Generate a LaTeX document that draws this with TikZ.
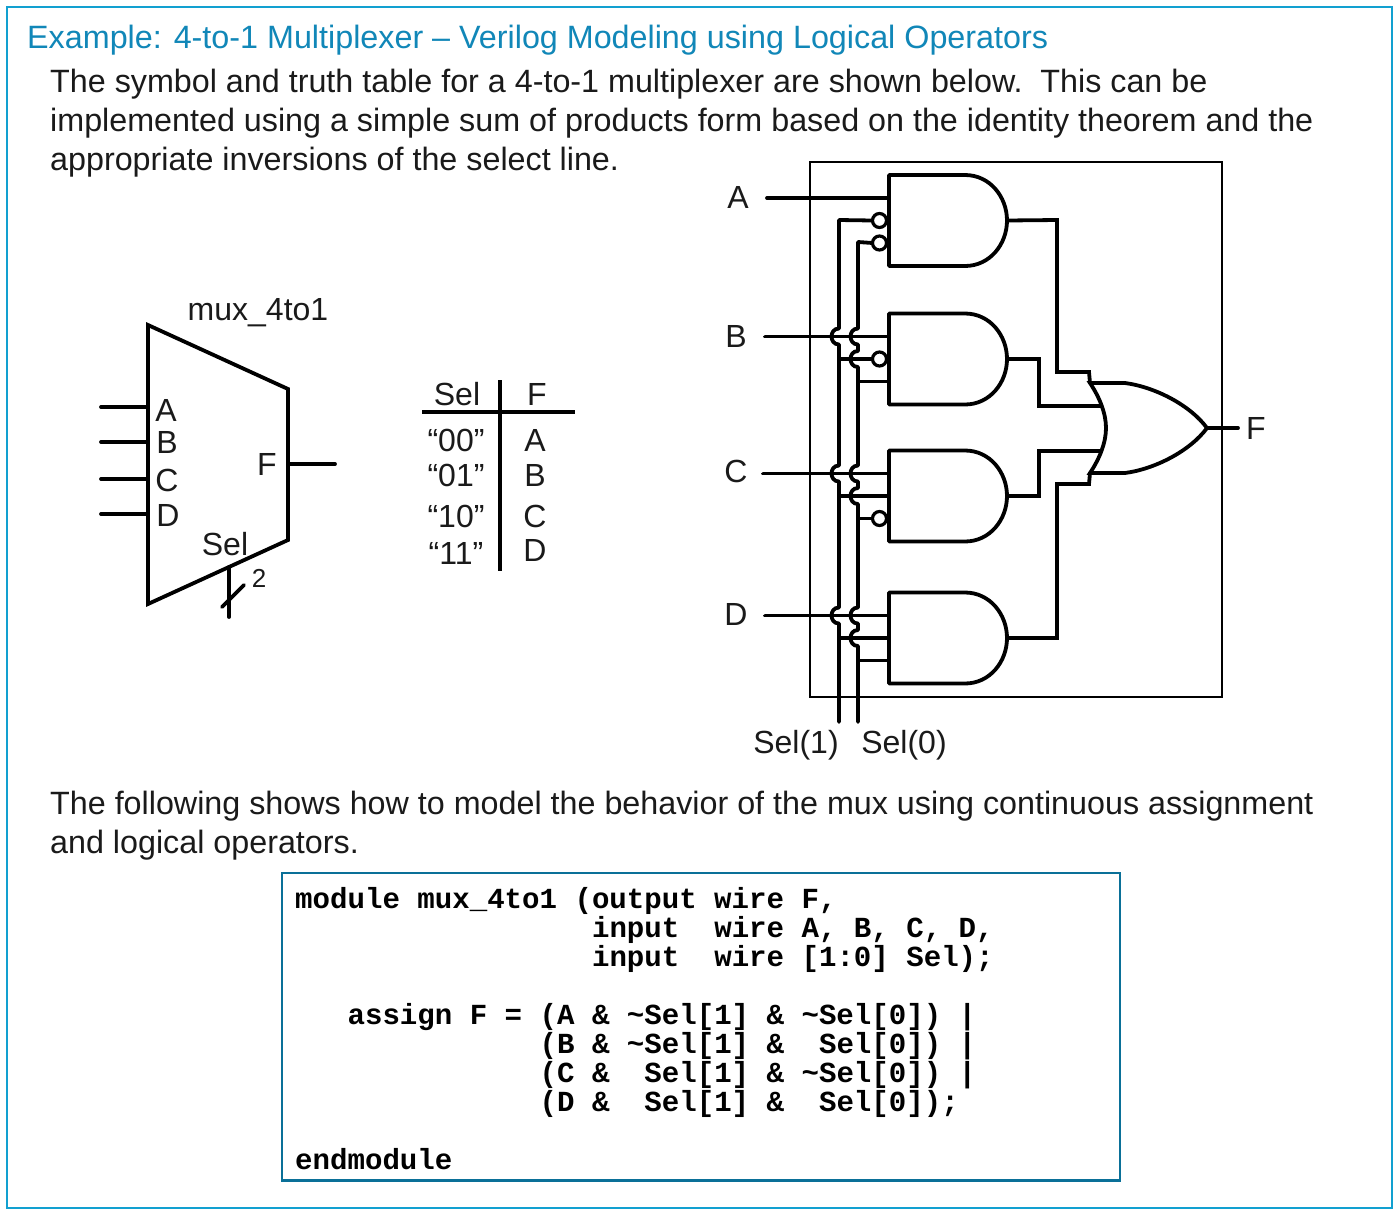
\documentclass[tikz,border=0pt]{standalone}
\usepackage{fontspec}
\setmainfont{Liberation Sans}
\newfontfamily\codefont{Liberation Mono Bold}
\usetikzlibrary{calc}
\definecolor{frameblue}{HTML}{12A0D0}
\definecolor{titleblue}{HTML}{1187B8}
\definecolor{codeblue}{HTML}{0A7098}
\definecolor{ink}{HTML}{1A1A1A}
\newcommand{\bodysize}{\fontsize{32.28}{39}\selectfont}
\newcommand{\labsize}{\fontsize{32}{36}\selectfont}
\newcommand{\tld}{\textasciitilde}
\newcommand{\cl}[1]{\hbox{#1}}
\newcommand{\jumpat}[1]{-- ($(#1)+(0,-8)$) .. controls ($(#1)+(-10,-8)$) and ($(#1)+(-10,8)$) .. ($(#1)+(0,8)$)}
\newcommand{\andgate}[2]{%
  \coordinate (#1a) at (889,#2+23);
  \coordinate (#1b) at (889,#2+45.5);
  \coordinate (#1c) at (889,#2+68);
  \coordinate (#1o) at (1007,#2+45.5);
  \draw[wire,line join=round] (889,#2) -- (965,#2) .. controls (990,#2) and (1007,#2+22) .. (1007,#2+45.5)
     .. controls (1007,#2+69) and (990,#2+91) .. (965,#2+91) -- (889,#2+91) -- cycle;}
\tikzset{
  wire/.style={draw=black,line width=3.8pt,line cap=round},
  thinbox/.style={draw=black,line width=1.2pt,outer sep=0pt},
  bubble/.style={circle,draw=black,line width=3.2pt,fill=white,minimum size=14pt,inner sep=0pt,outer sep=0pt,xshift=-2.5pt},
  bodytext/.style={anchor=base west,inner sep=0pt,text=ink,font=\bodysize},
  titletext/.style={anchor=base west,inner sep=0pt,text=titleblue,font=\fontsize{32.3}{38}\selectfont},
  lab/.style={inner sep=0pt,anchor=base,text=ink,font=\labsize},
  codetext/.style={anchor=base west,inner sep=0pt,text=black,font=\codefont\fontsize{29.1}{29}\selectfont},
}
\begin{document}
\begin{tikzpicture}[x=1pt,y=-1pt]
\useasboundingbox (0,0) rectangle (1400,1216);
\fill[white] (0,0) rectangle (1400,1216);
\node[draw=frameblue,line width=2.8pt,inner sep=0pt,outer sep=0pt,minimum width=1385pt,minimum height=1201pt,anchor=north west] (frame) at (7,7) {};

% Text
\node[titletext] (title) at (27,48) {Example: 4-to-1 Multiplexer – Verilog Modeling using Logical Operators};
\node[bodytext] (p1) at (50,92) {The symbol and truth table for a 4-to-1 multiplexer are shown below.\ \ This can be};
\node[bodytext] (p2) at (50,131) {implemented using a simple sum of products form based on the identity theorem and the};
\node[bodytext] (p3) at (50,170) {appropriate inversions of the select line.};
\node[bodytext] (p4) at (50,814) {The following shows how to model the behavior of the mux using continuous assignment};
\node[bodytext] (p5) at (50,853) {and logical operators.};

% Mux symbol
\node[lab] (muxname) at (258,320) {mux\_4to1};
\coordinate (mtl) at (148,325); \coordinate (mtr) at (288,389);
\coordinate (mbr) at (288,540); \coordinate (mbl) at (148,604);
\draw[wire,line join=miter,line cap=butt] (mtl) -- (mtr) -- (mbr) -- (mbl) -- cycle;
\foreach \n/\y in {A/407,B/442,C/479,D/514}{
  \coordinate (mi\n) at (148,\y);
  \coordinate (mx\n) at (101,\y);
  \draw[wire] (mx\n) -- (mi\n);
}
\node[lab] (mA) at (166,421) {A};
\node[lab] (mB) at (167,453) {B};
\node[lab] (mC) at (167,491) {C};
\node[lab] (mD) at (168,526) {D};
\node[lab] (mF) at (267,475) {F};
\node[lab] (mSel) at (225,555) {Sel};
\coordinate (mfi) at (288,464); \coordinate (mfo) at (335,464);
\draw[wire] (mfi) -- (mfo);
\coordinate (ms1) at (229,567); \coordinate (ms2) at (229,617);
\draw[wire] (ms1) -- (ms2);
\coordinate (sl1) at (222,607); \coordinate (sl2) at (244,585);
\draw[wire] (sl1) -- (sl2);
\node[lab,font=\fontsize{26}{30}\selectfont] (m2) at (259,587) {2};

% Truth table
\coordinate (th1) at (422,412); \coordinate (th2) at (575,412);
\coordinate (tv1) at (500,380); \coordinate (tv2) at (500,571);
\draw[wire,line cap=butt] (th1) -- (th2);
\draw[wire,line cap=butt] (tv1) -- (tv2);
\node[lab] (tS) at (457,405) {Sel};
\node[lab] (tF) at (537,405) {F};
\node[lab] (t0) at (456,451) {“00”};
\node[lab] (t1) at (456,486) {“01”};
\node[lab] (t2) at (456,527) {“10”};
\node[lab] (t3) at (456,564) {“11”};
\node[lab] (tA) at (535,451) {A};
\node[lab] (tB) at (535,486) {B};
\node[lab] (tC) at (535,527) {C};
\node[lab] (tD) at (535,561) {D};

% Schematic boundary
\node[thinbox,inner sep=0pt,minimum width=412pt,minimum height=535pt,anchor=north west] (sch) at (810,162) {};

% Gates
\andgate{ga}{175}
\andgate{gb}{313.5}
\andgate{gc}{450.5}
\andgate{gd}{592.5}

% Select lines
\coordinate (s1t) at (839,220); \coordinate (s1b) at (839,722);
\coordinate (s0t) at (858,242); \coordinate (s0b) at (858,722);
\coordinate (j1b) at (839,336.5); \coordinate (j1c) at (839,473.5); \coordinate (j1d) at (839,615.5);
\coordinate (j0b) at (858,336.5); \coordinate (j0B) at (858,359);
\coordinate (j0c) at (858,473.5); \coordinate (j0C) at (858,496);
\coordinate (j0d) at (858,615.5); \coordinate (j0D) at (858,638);
\draw[wire,line join=round] (s1t) \jumpat{j1b} \jumpat{j1c} \jumpat{j1d} -- (s1b);
\draw[wire,line join=round] (s0t) \jumpat{j0b} \jumpat{j0B} \jumpat{j0c} \jumpat{j0C} \jumpat{j0d} \jumpat{j0D} -- (s0b);

% Data inputs
\coordinate (ina) at (767,198); \coordinate (inb) at (765,336.5);
\coordinate (inc) at (763,473.5); \coordinate (ind) at (765,615.5);
\draw[wire] (ina) -- (gaa);
\draw[wire] (inb) -- (gba);
\draw[wire] (inc) -- (gca);
\draw[wire] (ind) -- (gda);

% Bubbles and select taps
\node[bubble,anchor=east] (b1) at (gab) {};
\node[bubble,anchor=east] (b2) at (gac) {};
\node[bubble,anchor=east] (b3) at (gbb) {};
\node[bubble,anchor=east] (b4) at (gcc) {};
\draw[wire,line cap=butt] (s1t) -- (b1.west);
\draw[wire,line cap=butt] (s0t) -- (b2.west);
\draw[wire,line cap=butt] (j1b |- gbb) -- (b3.west);
\draw[wire,line cap=butt] (j0B |- gbc) -- (gbc);
\draw[wire,line cap=butt] (j1b |- gcb) -- (gcb);
\draw[wire,line cap=butt] (j0B |- gcc) -- (b4.west);
\draw[wire,line cap=butt] (j1b |- gdb) -- (gdb);
\draw[wire,line cap=butt] (j0B |- gdc) -- (gdc);

% OR gate
\coordinate (ort) at (1090,383); \coordinate (orb) at (1090,473); \coordinate (orx) at (1207,428);
\draw[wire,line join=miter,line cap=butt,fill=white] (ort) -- (1125,383) .. controls (1155,387) and (1190,405) .. (orx)
  .. controls (1190,451) and (1155,469) .. (1125,473) -- (orb)
  .. controls (1100,458) and (1106,442) .. (1106,428) .. controls (1106,414) and (1100,398) .. (ort) -- cycle;

% Wires into OR
\coordinate (o1) at (1101,406); \coordinate (o2) at (1101,451);
\draw[wire,line join=miter,line cap=butt] (gao) -- (1057,220) -- (1057,372) -- (1089,372) -- (ort);
\draw[wire,line join=miter,line cap=butt] (gbo) -- (1039,359) -- (1039,406) -- (o1);
\draw[wire,line join=miter,line cap=butt] (gco) -- (1039,496) -- (1039,451) -- (o2);
\draw[wire,line join=miter,line cap=butt] (gdo) -- (1057,638) -- (1057,484) -- (1089,484) -- (orb);
\coordinate (fout) at (1238,428);
\draw[wire] (orx) -- (fout);

% Schematic labels
\node[lab] (lA) at (738,208) {A};
\node[lab] (lB) at (736,347) {B};
\node[lab] (lC) at (736,482) {C};
\node[lab] (lD) at (736,625) {D};
\node[lab] (lF) at (1256,439) {F};
\node[lab] (ls1) at (796,753) {Sel(1)};
\node[lab] (ls0) at (904,753) {Sel(0)};

% Code
\node[draw=codeblue,line width=2.4pt,inner sep=0pt,outer sep=0pt,minimum width=838pt,minimum height=307.5pt,anchor=north west] (codebox) at (282,873) {};
\node[codetext] (code) at (295,908) {\vtop{\baselineskip=29.1pt\lineskiplimit=-100pt
  \cl{module mux\_4to1 (output wire F,}
  \cl{\ \ \ \ \ \ \ \ \ \ \ \ \ \ \ \ \ input\ \ wire A, B, C, D,}
  \cl{\ \ \ \ \ \ \ \ \ \ \ \ \ \ \ \ \ input\ \ wire [1:0] Sel);}
  \cl{}
  \cl{\ \ \ assign F = (A \& \tld Sel[1] \& \tld Sel[0]) |}
  \cl{\ \ \ \ \ \ \ \ \ \ \ \ \ \ (B \& \tld Sel[1] \&\ \ Sel[0]) |}
  \cl{\ \ \ \ \ \ \ \ \ \ \ \ \ \ (C \&\ \ Sel[1] \& \tld Sel[0]) |}
  \cl{\ \ \ \ \ \ \ \ \ \ \ \ \ \ (D \&\ \ Sel[1] \&\ \ Sel[0]);}
  \cl{}
  \cl{endmodule}}};
\end{tikzpicture}
\end{document}
